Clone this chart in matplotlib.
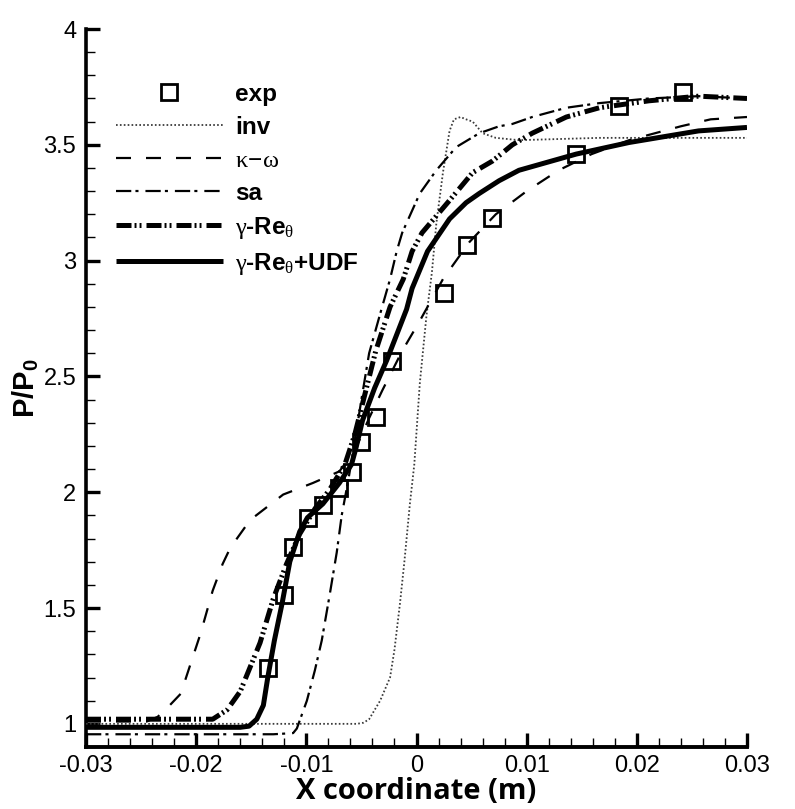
import matplotlib
matplotlib.use("Agg")
import matplotlib.pyplot as plt
from matplotlib.ticker import MultipleLocator, FixedLocator

# ---------------- data ----------------
exp_x = [-0.01348, -0.01204, -0.01122, -0.00986, -0.00851, -0.00706, -0.00588, -0.00507,
         -0.00371, -0.00226, 0.00253, 0.00462, 0.00688, 0.01448, 0.01837, 0.02416]
exp_y = [1.242, 1.558, 1.765, 1.890, 1.943, 2.020, 2.089, 2.215,
         2.323, 2.565, 2.859, 3.067, 3.183, 3.460, 3.668, 3.728]

inv_x = [-0.030, -0.0054, -0.0048, -0.0043, -0.0033, -0.0024, -0.0020, -0.0015, -0.0011,
         -0.0006, -0.0002, 0.0003, 0.0009, 0.0014, 0.0018, 0.0024, 0.0030, 0.0034,
         0.0040, 0.0045, 0.0051, 0.0060, 0.0072, 0.0093, 0.0166, 0.0300]
inv_y = [1.00, 1.00, 1.005, 1.02, 1.10, 1.20, 1.32, 1.52, 1.70,
         1.95, 2.12, 2.47, 2.76, 2.95, 3.16, 3.38, 3.56, 3.61,
         3.62, 3.61, 3.60, 3.55, 3.53, 3.52, 3.53, 3.53]

kw_x = [-0.030, -0.0245, -0.0235, -0.0226, -0.0214, -0.0196, -0.0185, -0.0176, -0.0169,
        -0.0151, -0.0121, -0.0094, -0.0070, -0.0056, -0.0043, -0.0031, -0.0013, 0.0003,
        0.0024, 0.0048, 0.0072, 0.0100, 0.0129, 0.0159, 0.0193, 0.0240, 0.0267, 0.0300]
kw_y = [1.01, 1.01, 1.03, 1.07, 1.13, 1.39, 1.575, 1.69, 1.76,
        1.88, 1.99, 2.04, 2.09, 2.18, 2.32, 2.44, 2.61, 2.74,
        2.92, 3.08, 3.20, 3.30, 3.39, 3.46, 3.52, 3.58, 3.61, 3.62]

sa_x = [-0.030, -0.0130, -0.0112, -0.01086, -0.00995, -0.00923, -0.0086, -0.00787,
        -0.00724, -0.00679, -0.0062, -0.0056, -0.0050, -0.0043, -0.0033, -0.0024,
        -0.0018, -0.0013, 0.0003, 0.0018, 0.0036, 0.0057, 0.0075, 0.0087, 0.0105,
        0.0136, 0.0166, 0.0211, 0.0256, 0.0300]
sa_y = [0.955, 0.955, 0.96, 0.98, 1.10, 1.23, 1.36, 1.56,
        1.74, 1.90, 2.05, 2.22, 2.40, 2.60, 2.77, 2.92,
        3.04, 3.12, 3.29, 3.39, 3.49, 3.55, 3.58, 3.59, 3.62,
        3.66, 3.68, 3.70, 3.71, 3.70]

g_x = [-0.030, -0.0185, -0.0172, -0.0160, -0.0142, -0.0130, -0.0118, -0.0106, -0.0092,
       -0.0079, -0.0065, -0.0056, -0.0047, -0.0037, -0.0024, -0.0012, -0.0004, 0.0005,
       0.0030, 0.0051, 0.0069, 0.0087, 0.0105, 0.0136, 0.0166, 0.0211, 0.0256, 0.0300]
g_y = [1.02, 1.02, 1.06, 1.14, 1.35, 1.54, 1.69, 1.82, 1.93,
       2.01, 2.12, 2.25, 2.42, 2.61, 2.80, 2.92, 3.04, 3.12,
       3.26, 3.38, 3.43, 3.50, 3.55, 3.62, 3.66, 3.69, 3.71, 3.70]

u_x = [-0.030, -0.0160, -0.0152, -0.0145, -0.0139, -0.0135, -0.0129, -0.0122, -0.0115,
       -0.0106, -0.0099, -0.0085, -0.0070, -0.0059, -0.0055, -0.0049, -0.0038, -0.0027,
       -0.0009, -0.0004, 0.0010, 0.0030, 0.0045, 0.0057, 0.0075, 0.0093, 0.0145, 0.0193,
       0.0256, 0.0300]
u_y = [0.985, 0.985, 0.99, 1.02, 1.08, 1.20, 1.36, 1.52, 1.70,
       1.83, 1.89, 1.95, 2.04, 2.12, 2.19, 2.31, 2.45, 2.57,
       2.79, 2.88, 3.04, 3.18, 3.25, 3.29, 3.345, 3.39, 3.46, 3.51,
       3.56, 3.575]

labels = ["exp", "inv", r"$\kappa\!-\!\omega$", "sa",
          r"$\gamma$-Re$_\theta$", r"$\gamma$-Re$_\theta$+UDF"]
xticks = [-0.03, -0.02, -0.01, 0.0, 0.01, 0.02, 0.03]
xticklabels = ["-0.03", "-0.02", "-0.01", "0", "0.01", "0.02", "0.03"]
yticks = [1, 1.5, 2, 2.5, 3, 3.5, 4]
yticklabels = ["1", "1.5", "2", "2.5", "3", "3.5", "4"]

# ---------------- style ----------------
plt.rcParams['axes.unicode_minus'] = False
plt.rcParams['lines.scale_dashes'] = False
plt.rcParams['mathtext.fontset'] = 'custom'
plt.rcParams['mathtext.rm'] = 'Liberation Sans'
plt.rcParams['mathtext.it'] = 'Liberation Serif'
plt.rcParams['mathtext.bf'] = 'Liberation Sans:bold'
plt.rcParams['font.family'] = ['Liberation Sans', 'DejaVu Sans']

fig = plt.figure(figsize=(7.95, 8.09), dpi=100)
ax = fig.add_axes([86/795, 62/809, 661/795, 718/809])

ax.plot(exp_x, exp_y, linestyle='none', marker='s', markersize=11.5,
        markerfacecolor='none', markeredgecolor='black', markeredgewidth=2.0,
        label=labels[0], zorder=6)
ax.plot(inv_x, inv_y, color='#3a3a3a', lw=1.3, linestyle=(0, (1.2, 1.6)),
        label=labels[1], zorder=3)
ax.plot(kw_x, kw_y, color='black', lw=1.6, linestyle=(0, (10.8, 10.8)),
        label=labels[2], zorder=3)
ax.plot(sa_x, sa_y, color='black', lw=1.6, linestyle=(0, (11, 3, 2.2, 5)),
        label=labels[3], zorder=4)
ax.plot(g_x, g_y, color='black', lw=3.6,
        linestyle=(0, (10.8, 2.2, 1.4, 2.2, 1.4, 3.6)), label=labels[4], zorder=4)
ax.plot(u_x, u_y, color='black', lw=3.6, solid_capstyle='butt',
        label=labels[5], zorder=5)

ax.set_xlim(-0.03, 0.03)
ax.set_ylim(0.9, 4.0)

ax.spines['top'].set_visible(False)
ax.spines['right'].set_visible(False)
ax.spines['left'].set_linewidth(2.6)
ax.spines['bottom'].set_linewidth(2.8)

ax.xaxis.set_major_locator(FixedLocator(xticks))
ax.yaxis.set_major_locator(FixedLocator(yticks))
ax.set_xticklabels(xticklabels)
ax.set_yticklabels(yticklabels)
ax.xaxis.set_minor_locator(MultipleLocator(0.002))
ax.yaxis.set_minor_locator(MultipleLocator(0.1))
ax.tick_params(which='major', direction='in', length=10, width=2.4,
               labelsize=17, pad=7, top=False, right=False)
ax.tick_params(axis='x', which='major', pad=6)
ax.tick_params(which='minor', direction='in', length=6.5, width=1.0,
               top=False, right=False)
for lab in ax.get_xticklabels() + ax.get_yticklabels():
    lab.set_family(['Liberation Sans Narrow', 'Liberation Sans'])

ax.set_xlabel("X coordinate (m)", fontsize=21, fontweight='bold',
              family=['Open Sans', 'DejaVu Sans'], labelpad=0)
ax.set_ylabel(r"P/P$_{\mathbf{0}}$", fontsize=21, fontweight='bold', labelpad=2)

leg = ax.legend(loc='upper left', bbox_to_anchor=(20/661, (747-73)/718),
                frameon=False, handlelength=4.4, handletextpad=0.5,
                labelspacing=0.41, borderaxespad=0, numpoints=1,
                prop={'weight': 'bold', 'size': 17.5})

fig.savefig("out.png", dpi=100)
